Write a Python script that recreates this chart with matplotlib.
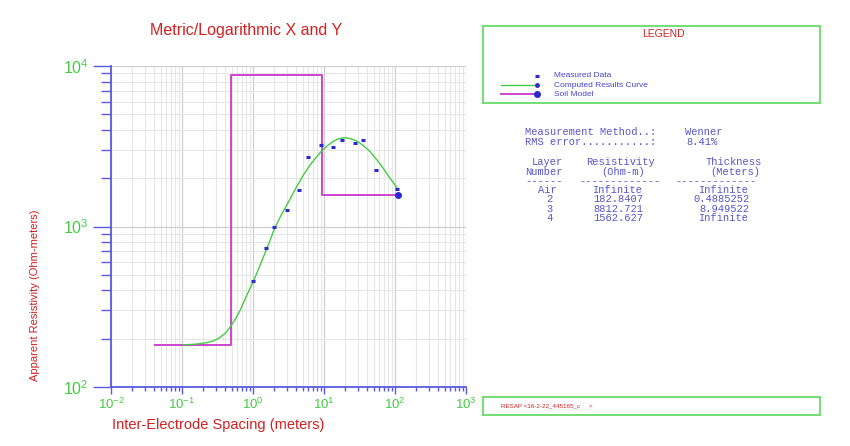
import numpy as np
import matplotlib
matplotlib.use("Agg")
import matplotlib.pyplot as plt
from matplotlib.ticker import LogLocator, LogFormatterSciNotation, NullFormatter
from matplotlib.patches import Rectangle

plt.rcParams['font.family'] = ['Liberation Sans', 'DejaVu Sans']
plt.rcParams['mathtext.fontset'] = 'custom'
plt.rcParams['mathtext.rm'] = 'Liberation Sans'
plt.rcParams['mathtext.it'] = 'Liberation Sans'

# ---- data ----
spacing = [1, 1.5, 2, 3, 4.5, 6, 9, 13.5, 18, 27, 36, 54, 108]
measured = [457, 738, 988, 1273, 1683, 2700, 3234, 3113, 3457, 3327, 3444, 2259, 1706]

curve_x = [0.104, 0.161, 0.223, 0.27, 0.308, 0.35, 0.40, 0.45, 0.50, 0.58, 0.67, 0.80,
           1.01, 1.2, 1.40, 1.7, 2.02, 2.5, 3.32, 4.0, 5.11, 6.5, 8.79, 11, 13.5,
           16, 19.8, 23.5, 28.9, 35, 44.5, 55, 68.4, 85, 109]
curve_y = [183, 185, 189, 193, 198, 205, 215, 228, 244, 270, 305, 365,
           455, 545, 645, 800, 975, 1180, 1480, 1730, 2090, 2450, 2880, 3170, 3390,
           3520, 3575, 3530, 3410, 3220, 2930, 2620, 2300, 2000, 1720]

layer_resistivity = [182.8407, 8812.721, 1562.627]
layer_thickness = [0.4885252, 8.949522]
model_start = 0.042
model_end = 109

table_layer = ["Air", "2", "3", "4"]
table_res = ["Infinite", "182.8407", "8812.721", "1562.627"]
table_thick = ["Infinite", "0.4885252", "8.949522", "Infinite"]
method = "Wenner"
rms = "8.41%"

W, H = 850, 446
fig = plt.figure(figsize=(W / 100, H / 100), dpi=100)


def fx(x):
    return x / W


def fy(y):
    return 1 - y / H


ax = fig.add_axes([fx(111), fy(387), fx(466) - fx(111), fy(66) - fy(387)])
ax.set_xscale('log')
ax.set_yscale('log')
ax.set_xlim(1e-2, 1e3)
ax.set_ylim(1e2, 1e4)

spine_c = '#5a5ae0'
for s in ['top', 'right']:
    ax.spines[s].set_visible(False)
for s in ['left', 'bottom']:
    ax.spines[s].set_color(spine_c)
    ax.spines[s].set_linewidth(1.3)

ax.xaxis.set_major_locator(LogLocator(base=10, numticks=10))
ax.xaxis.set_minor_locator(LogLocator(base=10, subs=np.arange(2, 10), numticks=20))
ax.yaxis.set_major_locator(LogLocator(base=10, numticks=10))
ax.yaxis.set_minor_locator(LogLocator(base=10, subs=np.arange(2, 10), numticks=20))
ax.xaxis.set_minor_formatter(NullFormatter())
ax.yaxis.set_minor_formatter(NullFormatter())
ax.xaxis.set_major_formatter(LogFormatterSciNotation())
ax.yaxis.set_major_formatter(LogFormatterSciNotation())

ax.tick_params(axis='y', which='major', direction='out', length=13, width=1, color=spine_c,
               labelsize=11.5, labelcolor='#44cc44', pad=3)
ax.tick_params(axis='y', which='minor', direction='out', length=7, width=1, color=spine_c)
ax.tick_params(axis='x', which='major', direction='out', length=5, width=1, color=spine_c,
               labelsize=9.5, labelcolor='#44cc44', pad=2)
ax.tick_params(axis='x', which='minor', direction='out', length=3, width=1, color=spine_c)

ax.grid(True, which='major', color='#cfcfcf', lw=0.9)
ax.grid(True, which='minor', color='#e6e6e6', lw=0.8)
ax.set_axisbelow(True)

# soil model step line built from layers
bounds = np.cumsum(layer_thickness)
sx = [model_start, bounds[0], bounds[0], bounds[1], bounds[1], model_end]
sy = [layer_resistivity[0], layer_resistivity[0], layer_resistivity[1],
      layer_resistivity[1], layer_resistivity[2], layer_resistivity[2]]
ax.plot(sx, sy, color='#cc44cc', lw=1.4, zorder=3, clip_on=False)
ax.plot([model_end], [layer_resistivity[2]], 'o', color='#2a2ad0', ms=4, zorder=5, clip_on=False)

ax.plot(curve_x, curve_y, color='#44cc44', lw=1.0, zorder=4)
ax.plot(spacing, measured, linestyle='none', marker='_', ms=3.5, mew=2.2,
        color='#2a2ad0', zorder=6)

# titles and labels
red = '#d42020'
fig.text(fx(246), fy(30), "Metric/Logarithmic X and Y", color=red, fontsize=11.5,
         ha='center', va='center')
fig.text(fx(112), fy(425), "Inter-Electrode Spacing (meters)", color=red, fontsize=10.5,
         ha='left', va='center')
fig.text(fx(35), fy(295), "Apparent Resistivity (Ohm-meters)", color=red, fontsize=8,
         ha='center', va='center', rotation=90)

# legend box
green_box = '#77dd77'
fig.patches.append(Rectangle((fx(483), fy(103)), fx(820) - fx(483), fy(26) - fy(103),
                             transform=fig.transFigure, fill=False, ec=green_box, lw=1.5))
fig.text(fx(663), fy(34), "LEGEND", color=red, fontsize=7.5, ha='center', va='center')
blue_t = '#4444cc'
rows = [75.7, 85.3, 94]
labels = ["Measured Data", "Computed Results Curve", "Soil Model"]
for r, lab in zip(rows, labels):
    fig.text(fx(554), fy(r), lab, color=blue_t, fontsize=6, ha='left', va='center')
fig.lines.append(plt.Line2D([fx(537)], [fy(rows[0])], transform=fig.transFigure,
                            marker='_', ms=3, mew=2.2, color='#2a2ad0', ls='none'))
fig.lines.append(plt.Line2D([fx(501), fx(537)], [fy(rows[1])] * 2, transform=fig.transFigure,
                            color='#44cc44', lw=1.0))
fig.lines.append(plt.Line2D([fx(537)], [fy(rows[1])], transform=fig.transFigure,
                            marker='o', ms=2.5, color='#2a2ad0', ls='none'))
fig.lines.append(plt.Line2D([fx(501), fx(537)], [fy(rows[2])] * 2, transform=fig.transFigure,
                            color='#cc44cc', lw=1.4))
fig.lines.append(plt.Line2D([fx(537)], [fy(rows[2])], transform=fig.transFigure,
                            marker='o', ms=4, color='#2a2ad0', ls='none'))

# results table
mono = dict(family='Liberation Mono', fontsize=7.5, color='#5555cc', va='center', ha='left')
fig.text(fx(525), fy(132.3), "Measurement Method..:", **mono)
fig.text(fx(685), fy(132.3), method, **mono)
fig.text(fx(525), fy(141.7), "RMS error...........:", **mono)
fig.text(fx(686), fy(141.7), rms, **mono)
fig.text(fx(532), fy(161.7), "Layer", **mono)
fig.text(fx(586), fy(161.7), "Resistivity", **mono)
fig.text(fx(706), fy(161.7), "Thickness", **mono)
fig.text(fx(525), fy(171.7), "Number", **mono)
fig.text(fx(601), fy(171.7), "(Ohm-m)", **mono)
fig.text(fx(710), fy(171.7), "(Meters)", **mono)
fig.text(fx(525), fy(181), "------", **mono)
fig.text(fx(579), fy(181), "-------------", **mono)
fig.text(fx(675), fy(181), "-------------", **mono)
row_y = [190, 199.3, 208.7, 218]
for y, a, b, c in zip(row_y, table_layer, table_res, table_thick):
    fig.text(fx(538) if a == "Air" else fx(546), fy(y), a, **mono)
    fig.text(fx(593), fy(y), b, **mono)
    fig.text(fx(693) if c.startswith("0.") else fx(699), fy(y), c, **mono)

# bottom box
fig.patches.append(Rectangle((fx(483), fy(415)), fx(820) - fx(483), fy(397) - fy(415),
                             transform=fig.transFigure, fill=False, ec=green_box, lw=1.5))
fig.text(fx(501), fy(406), "RESAP <16-2-22_445165_c     >", color=red, fontsize=4.5,
         ha='left', va='center')

fig.savefig("out.png", dpi=100)
